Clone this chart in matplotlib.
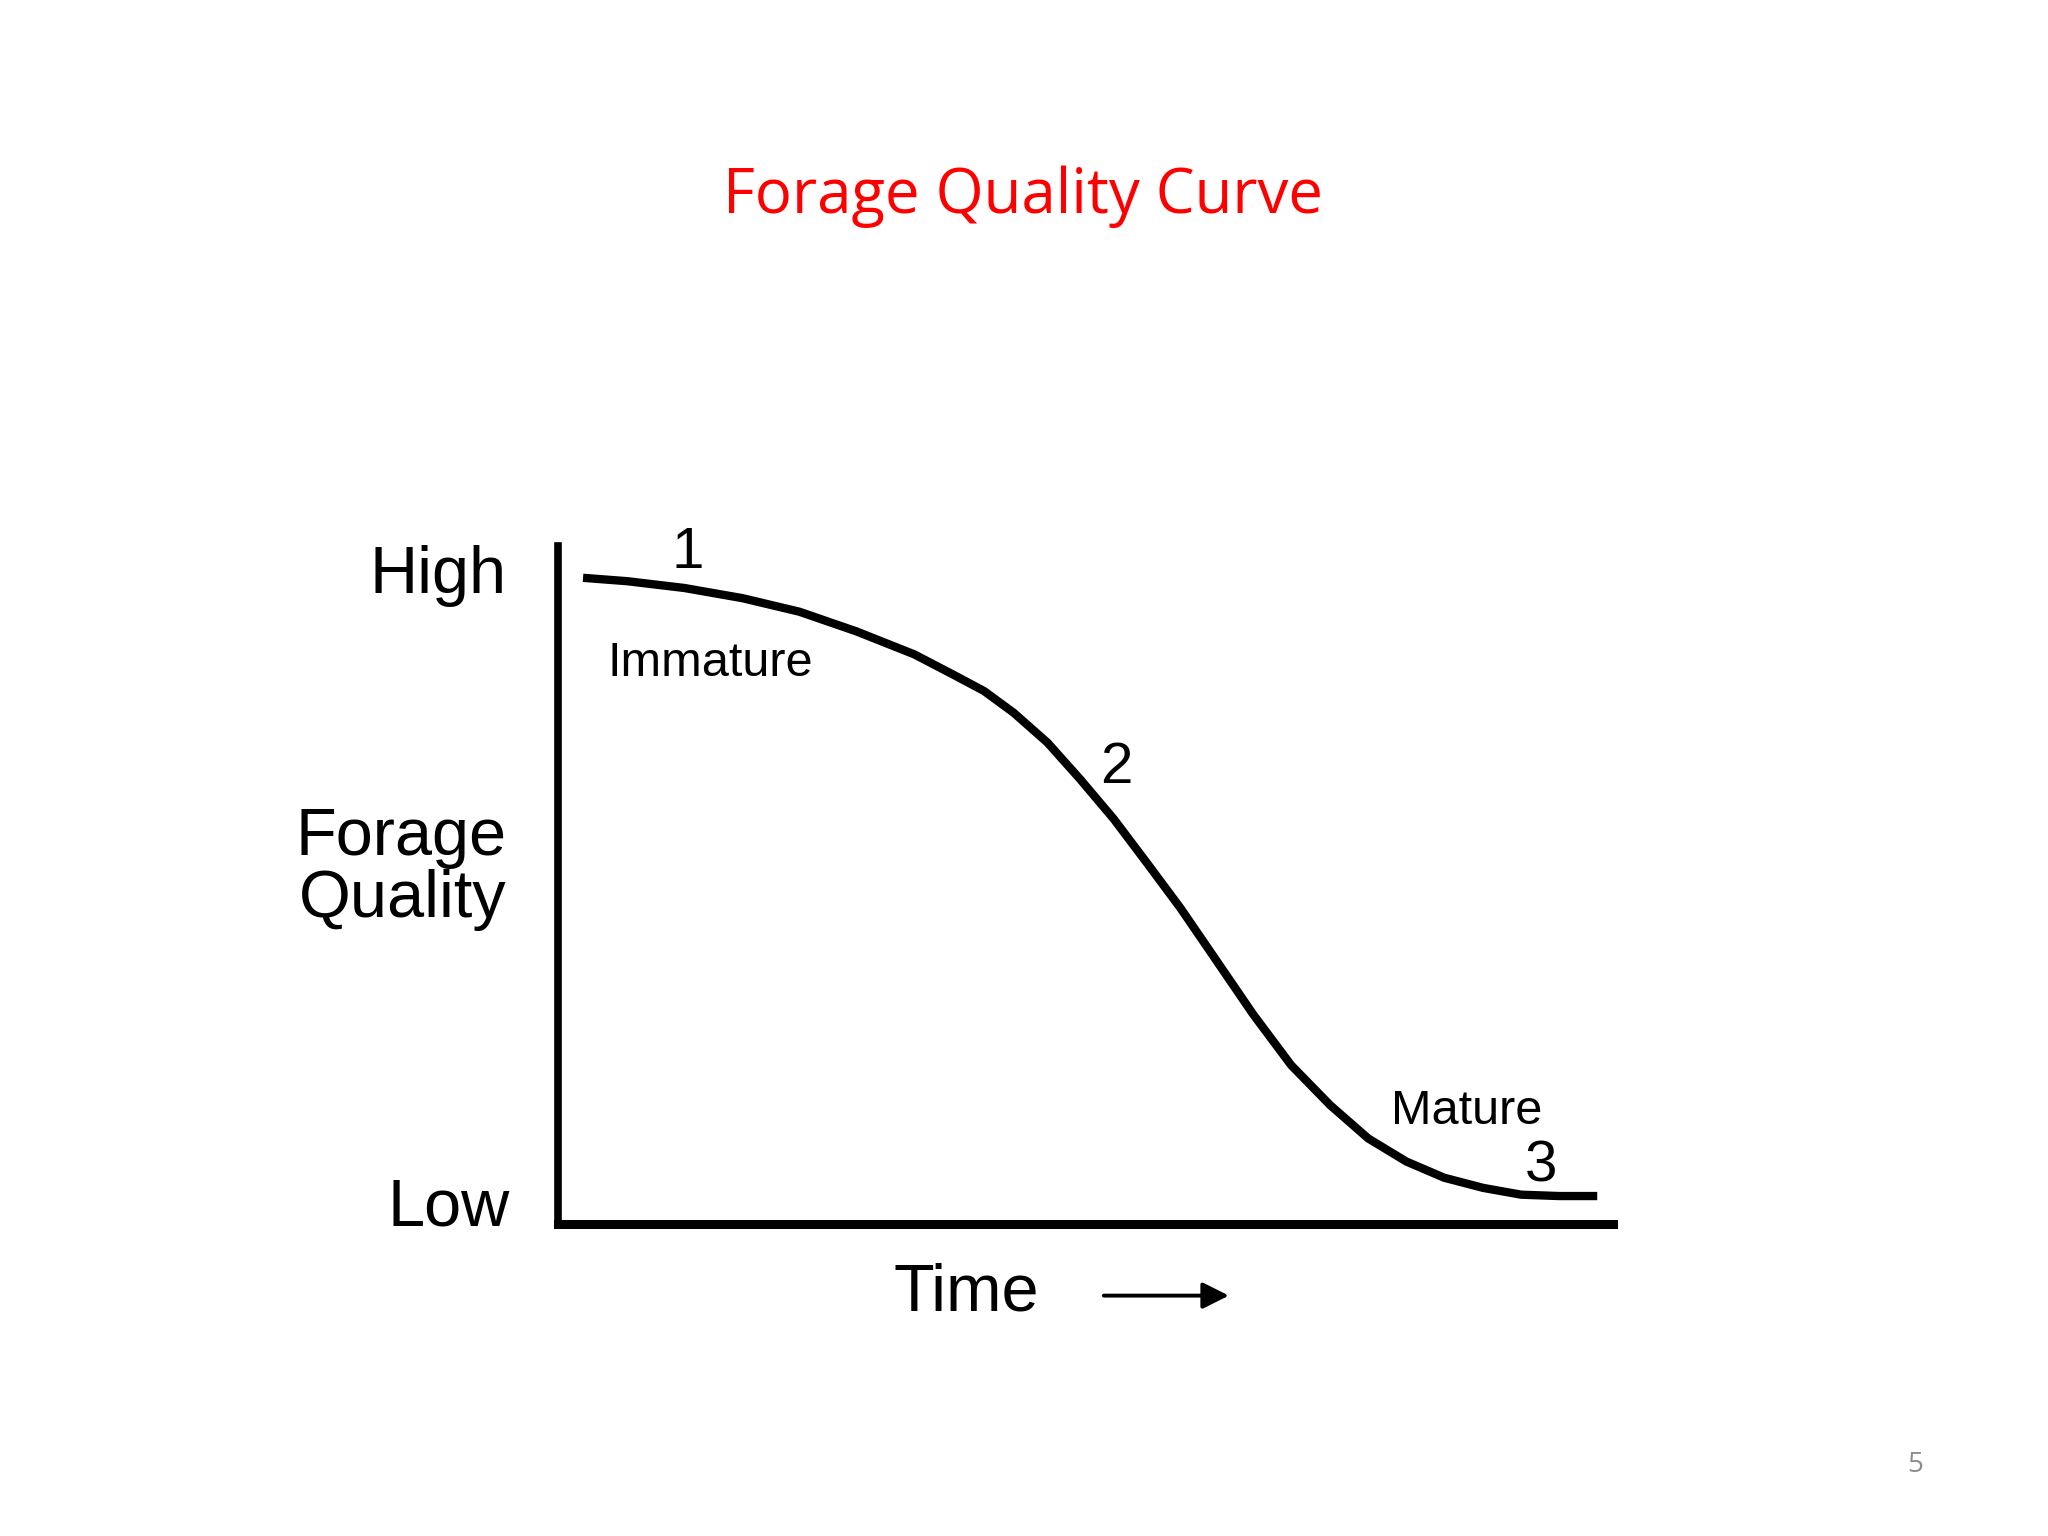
import matplotlib
matplotlib.use("Agg")
import matplotlib.pyplot as plt

# curve (time vs. forage quality, 0-100 on both axes)
tiempo = [2.4, 6.6, 12.0, 17.5, 22.9, 28.3, 33.8, 37.5, 40.4, 43.2,
          46.4, 49.5, 52.7, 55.8, 59.0, 62.3, 65.9, 69.5, 73.2, 76.8,
          80.4, 84.0, 87.7, 91.3, 94.9, 98.5]
calidad = [95.3, 94.8, 93.8, 92.3, 90.3, 87.4, 84.0, 81.0, 78.6, 75.4,
           71.0, 65.6, 59.7, 53.3, 46.6, 39.1, 30.9, 23.4, 17.5, 12.6,
           9.2, 6.8, 5.3, 4.3, 4.1, 4.1]

etapas = ["1", "2", "3"]
etapas_x = [12.3, 52.9, 93.2]
etapas_y = [99.0, 67.3, 8.5]

titulo = "Forage Quality Curve"
fuente = "Liberation Sans"

fig = plt.figure(figsize=(20.48, 15.36), dpi=100)
fig.patch.set_facecolor("white")

ax = fig.add_axes([427 / 1568, 1 - 937 / 1176, 808 / 1568, 519 / 1176])
ax.set_xlim(0, 100)
ax.set_ylim(0, 100)
ax.plot(tiempo, calidad, color="black", lw=6.0, solid_capstyle="butt",
        solid_joinstyle="round", clip_on=False)

for lado in ["top", "right"]:
    ax.spines[lado].set_visible(False)
ax.spines["left"].set_linewidth(5.5)
ax.spines["bottom"].set_linewidth(6.5)
ax.set_xticks([])
ax.set_yticks([])
ax.patch.set_alpha(0)

for txt, x, y in zip(etapas, etapas_x, etapas_y):
    ax.text(x, y, txt, fontsize=42, family=fuente, ha="center", va="center")
ax.text(4.7, 82.7, "Immature", fontsize=35, family=fuente, ha="left", va="center")
ax.text(79.0, 16.5, "Mature", fontsize=35, family=fuente, ha="left", va="center")

# etiquetas de fuera
fig.text(0.2474, 0.625, "High", fontsize=48, family=fuente, ha="right", va="center")
fig.text(0.2474, 0.4345, "Forage\nQuality", fontsize=48, family=fuente,
         ha="right", va="center", linespacing=1.0)
fig.text(0.2487, 0.2134, "Low", fontsize=48, family=fuente, ha="right", va="center")
fig.text(0.4719, 0.1582, "Time", fontsize=48, family=fuente, ha="center", va="center")
fig.patches.append(matplotlib.patches.FancyArrowPatch(
    (0.5376, 0.1565), (0.6014, 0.1565), transform=fig.transFigure,
    arrowstyle="-|>,head_length=0.8,head_width=0.4", mutation_scale=20,
    color="black", lw=2.8))

fig.text(0.4994, 0.872, titulo, fontsize=44.5, family="Open Sans", color="#ff0000",
         ha="center", va="center")
fig.text(0.935, 0.046, "5", fontsize=20, family="Open Sans", color="#8c8c8c",
         ha="center", va="center")

fig.savefig("out.png", dpi=100, facecolor="white")
